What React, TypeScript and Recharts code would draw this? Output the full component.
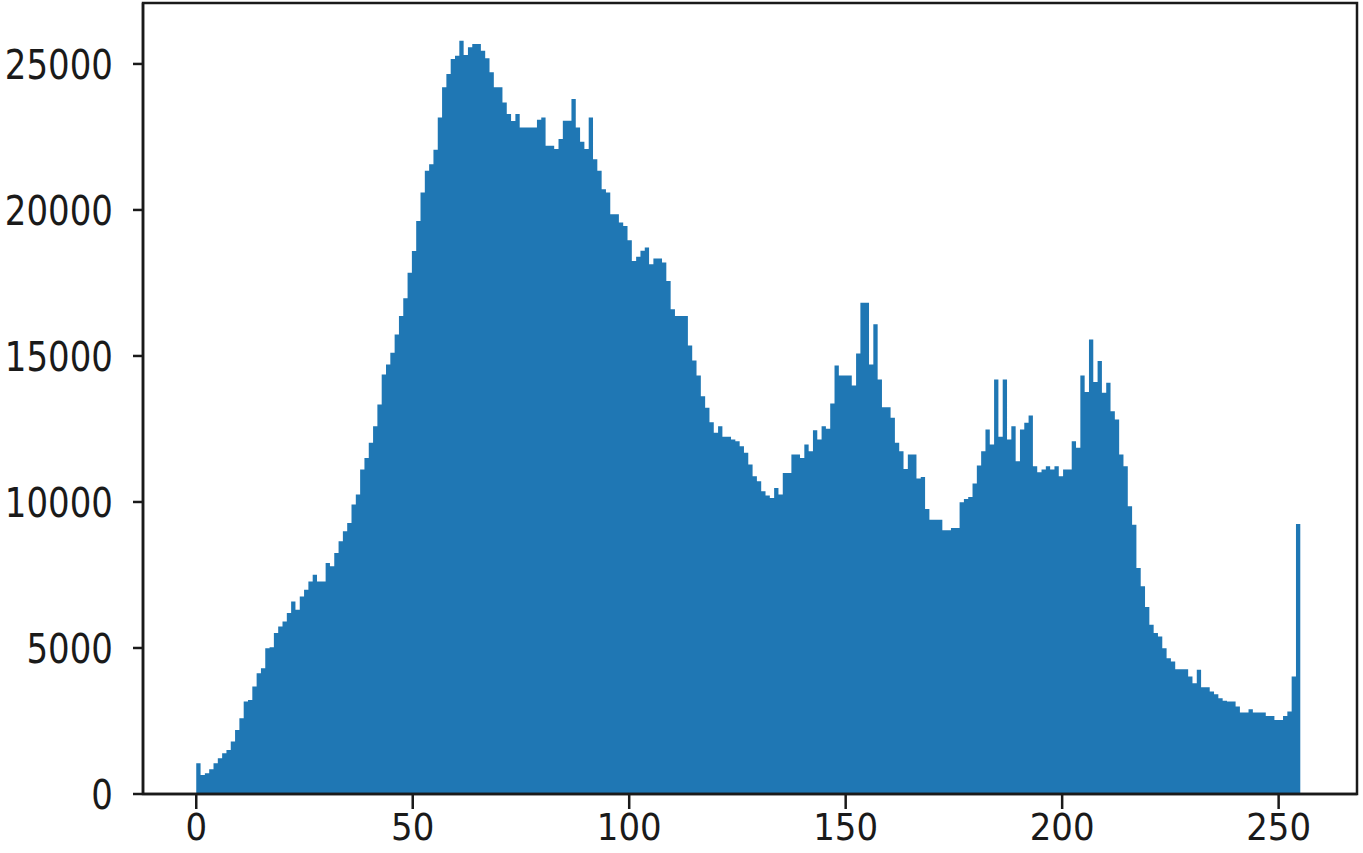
import { AreaChart, Area, XAxis, YAxis, ReferenceArea } from 'recharts';

// pixel-intensity histogram, 256 bins spanning 0..255
const binCounts = [
  1052, 651, 708, 846, 1052, 1223, 1394, 1509, 1795, 2195,
  2595, 3166, 3223, 3680, 4137, 4309, 4995, 5029, 5509, 5737,
  5909, 6195, 6595, 6309, 6767, 6995, 7281, 7509, 7281, 7281,
  7909, 7795, 8253, 8653, 8996, 9281, 9910, 10253, 11110, 11510,
  12024, 12596, 13339, 14368, 14710, 15110, 15739, 16368, 16974, 17853,
  18597, 19625, 20597, 21340, 21568, 22059, 23169, 24198, 24655, 25169,
  25283, 25797, 25306, 25570, 25683, 25683, 25455, 25192, 24712, 24198,
  24198, 23683, 23283, 23050, 23283, 22826, 22826, 22826, 22826, 23088,
  23169, 22197, 22197, 22083, 22426, 23054, 23054, 23797, 22826, 22334,
  22083, 23169, 21740, 21340, 20711, 20597, 19855, 19855, 19568, 19454,
  18963, 18254, 18400, 18600, 18711, 18140, 18335, 18335, 18197, 17567,
  16596, 16367, 16367, 16367, 15362, 14848, 14333, 13624, 13225, 12732,
  12368, 12595, 12231, 12231, 12139, 12082, 11909, 11682, 11281, 10881,
  10709, 10366, 10218, 10139, 10482, 10253, 10996, 10996, 11624, 11624,
  11510, 11967, 11738, 12458, 12139, 12595, 12505, 13373, 14676, 14333,
  14333, 14333, 13990, 15088, 16825, 16825, 14710, 16082, 14196, 13247,
  13247, 12882, 12025, 11738, 11133, 11624, 11624, 10800, 10859, 9762,
  9395, 9395, 9395, 9029, 9029, 9110, 9110, 9990, 10100, 10173,
  10630, 11247, 11738, 12482, 11967, 14196, 12231, 14196, 12139, 12595,
  11395, 12482, 12710, 12962, 11224, 11018, 11110, 11224, 11110, 11224,
  10881, 11110, 11110, 12082, 11853, 14333, 13762, 15568, 14105, 14825,
  13739, 14082, 13110, 12825, 11624, 11224, 9853, 9224, 7738, 7110,
  6401, 5795, 5509, 5395, 4995, 4650, 4538, 4275, 4275, 4275,
  4023, 3795, 4252, 3658, 3658, 3509, 3420, 3281, 3189, 3166,
  3166, 2995, 2789, 2789, 2903, 2789, 2789, 2789, 2675, 2675,
  2537, 2537, 2675, 2823, 4023, 9250,
];
const rangeMin = 0;
const rangeMax = 255;
const xTicks = [0, 50, 100, 150, 200, 250];
const yTicks = [0, 5000, 10000, 15000, 20000, 25000];

const binWidth = (rangeMax - rangeMin) / binCounts.length;
// step area: one point per left bin edge, plus the closing right edge
const chartData = binCounts
  .map((count, i) => ({ x: rangeMin + i * binWidth, count }))
  .concat([{ x: rangeMax, count: binCounts[binCounts.length - 1] }]);

const yMax = Math.max(...binCounts) * 1.05;
const textColor = '#1a1a1a';

// the reference text is a little stretched vertically
function XTick({ x, y, payload }: any) {
  return (
    <text
      x={x}
      y={y}
      dy="0.71em"
      textAnchor="middle"
      fill={textColor}
      fontSize={34}
      fontFamily="DejaVu Sans"
      transform={`translate(${x},${y}) scale(1,1.1) translate(${-x},${-y})`}
    >
      {payload.value}
    </text>
  );
}

function YTick({ x, y, payload }: any) {
  return (
    <text
      x={x}
      y={y}
      dy="0.36em"
      textAnchor="end"
      fill={textColor}
      fontSize={34}
      fontFamily="DejaVu Sans"
      transform={`translate(${x},${y}) scale(1,1.2) translate(${-x},${-y})`}
    >
      {payload.value}
    </text>
  );
}

export default function App() {
  return (
    <div style={{ position: 'absolute', left: 0, top: 0, background: '#fff' }}>
      <AreaChart
        width={1363}
        height={853}
        data={chartData}
        margin={{ top: 3, right: 6, bottom: 0, left: 0 }}
      >
        <XAxis
          dataKey="x"
          type="number"
          domain={[-12.3, 268.1]}
          ticks={xTicks}
          height={59}
          stroke="#1a1a1a"
          strokeWidth={2.5}
          tick={<XTick />}
          tickSize={15}
          tickMargin={4}
          allowDataOverflow
        />
        <YAxis
          type="number"
          domain={[0, yMax]}
          ticks={yTicks}
          width={143}
          stroke="#1a1a1a"
          strokeWidth={2.5}
          tick={<YTick />}
          tickSize={10}
          tickMargin={20}
          allowDataOverflow
        />
        <Area
          type="stepAfter"
          dataKey="count"
          stroke="none"
          fill="#1f77b4"
          fillOpacity={1}
          dot={false}
          activeDot={false}
          isAnimationActive={false}
        />
        <ReferenceArea
          x1={-12.3}
          x2={268.1}
          y1={0}
          y2={yMax}
          fill="none"
          stroke="#1a1a1a"
          strokeWidth={2.5}
        />
      </AreaChart>
    </div>
  );
}
